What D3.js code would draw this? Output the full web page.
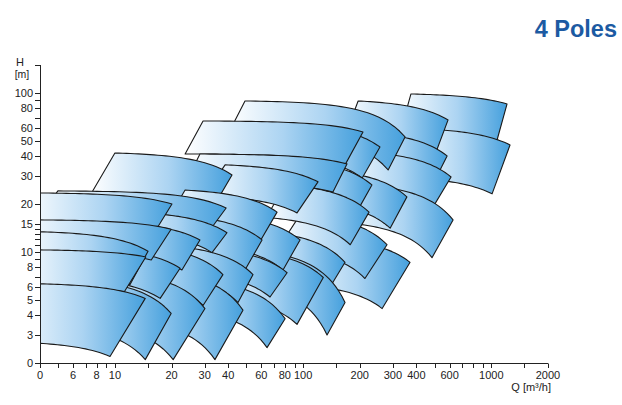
<!DOCTYPE html>
<html>
<head>
<meta charset="utf-8">
<script src="https://cdn.jsdelivr.net/npm/d3@7"></script>
<style>
  body { margin: 0; background: #fff; }
  svg { display: block; font-family: "Liberation Sans", Arial, sans-serif; }
</style>
</head>
<body>
<svg id="chart" width="622" height="405"></svg>
<script>
// pump tiles, listed back to front
// top curve from (qLeft, hLeft) to (qRight, hRight), bottom-right corner at (qBottom, hBottom)
const qLeft   = [374, 444, 196, 201, 206, 213, 123, 49.1, 123, 96.3, 96.3, 85.2, 80.2, 29.4, 28.3, 62.8, 52.2, 43.5, 38.5, 34.0, 28.3, 25.1, 10.0, 23.6, 19.6, 16.3, 14.5, 4.98, 12.0, 11.3, 8.86, 8.34, 6.94, 5.77, 4.0, 4.0, 4.0, 4.0, 4.0]
const hLeft   = [98.6, 59.4, 89.1, 56.9, 42.6, 26.4, 12.2, 89.1, 32.8, 17.1, 62.9, 37.9, 26.4, 66.7, 41.3, 13.4, 10.3, 10.3, 35.3, 17.1, 10.6, 6.7, 41.9, 24.5, 17.1, 11.1, 7.7, 24.2, 17.8, 11.1, 7.5, 15.4, 10.6, 6.7, 23.5, 15.9, 13.4, 10.3, 6.3]
const qRight  = [1212, 1257, 589, 582, 611, 626, 370, 348, 356, 279, 256, 232, 224, 208, 171, 167, 167, 128, 120, 96.3, 82.2, 80.2, 41.9, 72.7, 60.5, 54.2, 47.9, 39.0, 39.4, 37.5, 30.1, 28.3, 22.2, 19.9, 20.1, 19.9, 15.0, 14.6, 14.5]
const hRight  = [85.3, 47.1, 67.7, 40.2, 29.6, 15.9, 8.6, 52.9, 22.2, 11.1, 45.7, 26.4, 17.8, 56.9, 35.8, 8.6, 4.8, 6.9, 27.6, 11.9, 7.4, 3.8, 30.5, 17.8, 11.9, 7.2, 4.3, 18.9, 13.2, 7.2, 4.4, 11.9, 7.9, 4.1, 20.0, 13.9, 10.1, 9.3, 5.1]
const qBottom = [1009, 1009, 490, 472, 472, 484, 263, 283, 290, 213, 206, 189, 178, 167, 144, 134, 134, 92.8, 92.8, 78.2, 66.7, 64.3, 31.2, 57.6, 49.1, 45.1, 34.0, 32.8, 32.8, 29.4, 20.4, 22.7, 17.4, 14.5, 16.3, 15.6, 12.0, 11.2, 9.42]
const hBottom = [39.0, 23.2, 37.9, 24.5, 17.8, 9.2, 4.4, 32.8, 14.1, 6.8, 29.2, 17.1, 11.1, 35.3, 23.8, 5.6, 3.0, 3.5, 17.6, 7.7, 5.2, 2.5, 16.8, 11.1, 7.7, 4.8, 2.1, 14.3, 9.9, 4.6, 2.1, 7.7, 5.1, 2.1, 13.4, 8.9, 6.2, 5.6, 2.2]

// axes
const qTicks  = [4, 5, 6, 7, 8, 9, 10, 15, 20, 30, 40, 50, 60, 70, 80, 90, 100, 150, 200, 300, 400, 500, 600, 700, 800, 900, 1000, 1500, 2000]
const qLabels = [0, 6, 8, 10, 20, 30, 40, 60, 80, 100, 200, 300, 400, 600, 1000, 2000]
const hTicks  = [2, 3, 4, 5, 6, 7, 8, 9, 10, 11, 12, 13, 14, 15, 20, 30, 40, 50, 60, 70, 80, 90, 100, 150]
const hLabels = [0, 3, 4, 5, 6, 8, 10, 15, 20, 30, 40, 50, 60, 80, 100]

function drawChart() {
  const svg = d3.select('#chart')
  svg.selectAll('*').remove()

  const x = d3.scaleLog().domain([4, 2000]).range([40, 548])
  const y = d3.scaleLog().domain([2, 100]).range([363, 93])
  // "0" sits at the start of each log axis
  const xPos = v => x(v === 0 ? 4 : v)
  const yPos = v => y(v === 0 ? 2 : v)

  const defs = svg.append('defs')
  const grad = defs.append('linearGradient')
    .attr('id', 'tileFill')
    .attr('x1', 0).attr('x2', 1).attr('y1', 0).attr('y2', 0)
  grad.append('stop').attr('offset', '0%').attr('stop-color', '#ffffff')
  grad.append('stop').attr('offset', '55%').attr('stop-color', '#acd4f2')
  grad.append('stop').attr('offset', '100%').attr('stop-color', '#45a0dd')

  defs.append('clipPath').attr('id', 'plotClip')
    .append('rect')
    .attr('x', 40).attr('y', 0).attr('width', 582).attr('height', 363)

  function tilePath(i) {
    const q1 = qLeft[i], h1 = hLeft[i], q2 = qRight[i], h2 = hRight[i]
    // parabola h = h0 - a q^2 through both top corners
    const a = (h1 - h2) / (q2 * q2 - q1 * q1)
    const h0 = h1 + a * q1 * q1
    const s = qBottom[i] / q2, t = hBottom[i] / h2
    const n = 30
    const top = d3.range(n + 1).map(k => {
      const q = q1 * Math.pow(q2 / q1, k / n)
      return [q, h0 - a * q * q]
    })
    const bottom = top.map(([q, h]) => [q * s, h * t]).reverse()
    const pts = top.concat(bottom).map(([q, h]) => [x(q), y(h)])
    return d3.line()(pts) + 'Z'
  }

  svg.append('g')
    .attr('clip-path', 'url(#plotClip)')
    .selectAll('path')
    .data(d3.range(qLeft.length))
    .join('path')
    .attr('d', tilePath)
    .attr('fill', 'url(#tileFill)')
    .attr('stroke', '#1a1a1a')
    .attr('stroke-width', 1.1)
    .attr('stroke-linejoin', 'round')

  const axes = svg.append('g')
    .attr('stroke', '#222')
    .attr('stroke-width', 1)

  axes.append('line')
    .attr('x1', 40).attr('x2', 548)
    .attr('y1', 363.5).attr('y2', 363.5)
  axes.append('line')
    .attr('x1', 40.5).attr('x2', 40.5)
    .attr('y1', y(150)).attr('y2', 363.5)

  axes.selectAll('.qt')
    .data(qTicks)
    .join('line')
    .attr('class', 'qt')
    .attr('x1', d => Math.round(x(d)) + 0.5).attr('x2', d => Math.round(x(d)) + 0.5)
    .attr('y1', 363.5).attr('y2', 368)

  axes.selectAll('.ht')
    .data(hTicks)
    .join('line')
    .attr('class', 'ht')
    .attr('x1', 35).attr('x2', 40.5)
    .attr('y1', d => Math.round(y(d)) + 0.5).attr('y2', d => Math.round(y(d)) + 0.5)

  svg.append('g')
    .selectAll('text')
    .data(qLabels)
    .join('text')
    .attr('x', d => xPos(d))
    .attr('y', 379)
    .attr('text-anchor', 'middle')
    .attr('font-size', 11)
    .attr('fill', '#222')
    .text(d => d)

  svg.append('g')
    .selectAll('text')
    .data(hLabels)
    .join('text')
    .attr('x', 33)
    .attr('y', d => yPos(d))
    .attr('dy', '0.36em')
    .attr('text-anchor', 'end')
    .attr('font-size', 11)
    .attr('fill', '#222')
    .text(d => d)

  svg.append('text')
    .attr('x', 20).attr('y', 66)
    .attr('text-anchor', 'middle')
    .attr('font-size', 11).attr('fill', '#222')
    .text('H')
  svg.append('text')
    .attr('x', 22).attr('y', 78)
    .attr('text-anchor', 'middle')
    .attr('font-size', 10.5).attr('fill', '#222')
    .text('[m]')

  svg.append('text')
    .attr('x', 551).attr('y', 391)
    .attr('text-anchor', 'end')
    .attr('font-size', 11).attr('fill', '#222')
    .text('Q  [m³/h]')

  svg.append('text')
    .attr('x', 617).attr('y', 37)
    .attr('text-anchor', 'end')
    .attr('font-size', 23.5)
    .attr('font-weight', 'bold')
    .attr('fill', '#1c5aa2')
    .text('4 Poles')
}

document.addEventListener('DOMContentLoaded', drawChart, false)
</script>
</body>
</html>
